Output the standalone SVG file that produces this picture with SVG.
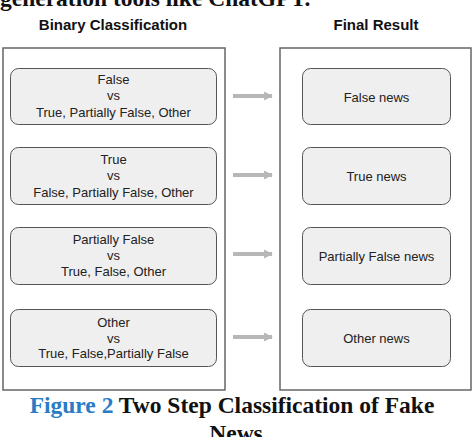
<svg xmlns="http://www.w3.org/2000/svg" width="474" height="437" viewBox="0 0 474 437">
<defs>
<style>
.hdr{font-family:"Liberation Sans",Arial,sans-serif;font-size:15px;font-weight:bold;fill:#111;text-anchor:middle}
.t{font-family:"Liberation Sans",Arial,sans-serif;font-size:13px;fill:#222;text-anchor:middle}
.outer{fill:#fff;stroke:#666;stroke-width:1.5}
.box{fill:#efefef;stroke:#555;stroke-width:1}
.cap{font-family:"Liberation Serif","Times New Roman",serif;font-weight:bold;font-size:23.5px;fill:#111}
.arr{stroke:#b7b7b7;stroke-width:4;fill:none}
</style>
<marker id="ah" viewBox="0 0 10 10" refX="9" refY="5" markerWidth="2.2" markerHeight="2.5" orient="auto" markerUnits="strokeWidth">
<path d="M0,0 L10,5 L0,10 z" fill="#b7b7b7"/>
</marker>
</defs>
<rect width="474" height="437" fill="#fff"/>
<text class="cap" x="0" y="6" font-size="21">generation tools like ChatGPT.</text>
<text class="hdr" x="113" y="30">Binary Classification</text>
<text class="hdr" x="376" y="30">Final Result</text>
<g id="left-panel"><rect class="outer" x="3" y="48" width="222" height="342"/></g>
<g id="right-panel"><rect class="outer" x="280" y="48" width="191" height="342"/></g>
<g id="b1"><rect class="box" x="10.5" y="68.5" width="206" height="56" rx="8"/>
<text class="t" x="113.5" y="84">False</text><text class="t" x="113.5" y="100">vs</text><text class="t" x="113.5" y="117">True, Partially False, Other</text></g>
<g id="b2"><rect class="box" x="10.5" y="147.5" width="206" height="57" rx="8"/>
<text class="t" x="113.5" y="164">True</text><text class="t" x="113.5" y="180">vs</text><text class="t" x="113.5" y="197">False, Partially False, Other</text></g>
<g id="b3"><rect class="box" x="10.5" y="227.5" width="206" height="57" rx="8"/>
<text class="t" x="113.5" y="244">Partially False</text><text class="t" x="113.5" y="260">vs</text><text class="t" x="113.5" y="276">True, False, Other</text></g>
<g id="b4"><rect class="box" x="10.5" y="309.5" width="206" height="57" rx="8"/>
<text class="t" x="113.5" y="327">Other</text><text class="t" x="113.5" y="343">vs</text><text class="t" x="113.5" y="358">True, False,Partially False</text></g>
<g id="r1"><rect class="box" x="302.5" y="68.5" width="148" height="56" rx="8"/><text class="t" x="376.5" y="102">False news</text></g>
<g id="r2"><rect class="box" x="302.5" y="147.5" width="148" height="57" rx="8"/><text class="t" x="376.5" y="181">True news</text></g>
<g id="r3"><rect class="box" x="302.5" y="227.5" width="148" height="57" rx="8"/><text class="t" x="376.5" y="261">Partially False news</text></g>
<g id="r4"><rect class="box" x="302.5" y="309.5" width="148" height="57" rx="8"/><text class="t" x="376.5" y="343">Other news</text></g>
<g id="connectors">
<line class="arr" x1="233" y1="96" x2="272" y2="96" marker-end="url(#ah)"/>
<line class="arr" x1="233" y1="175" x2="272" y2="175" marker-end="url(#ah)"/>
<line class="arr" x1="233" y1="254" x2="272" y2="254" marker-end="url(#ah)"/>
<line class="arr" x1="233" y1="337" x2="272" y2="337" marker-end="url(#ah)"/>
</g>
<text class="cap" x="232" y="413" text-anchor="middle"><tspan fill="#2a7cc4">Figure 2</tspan> Two Step Classification of Fake</text>
<text class="cap" x="236" y="441" text-anchor="middle">News</text>
</svg>
